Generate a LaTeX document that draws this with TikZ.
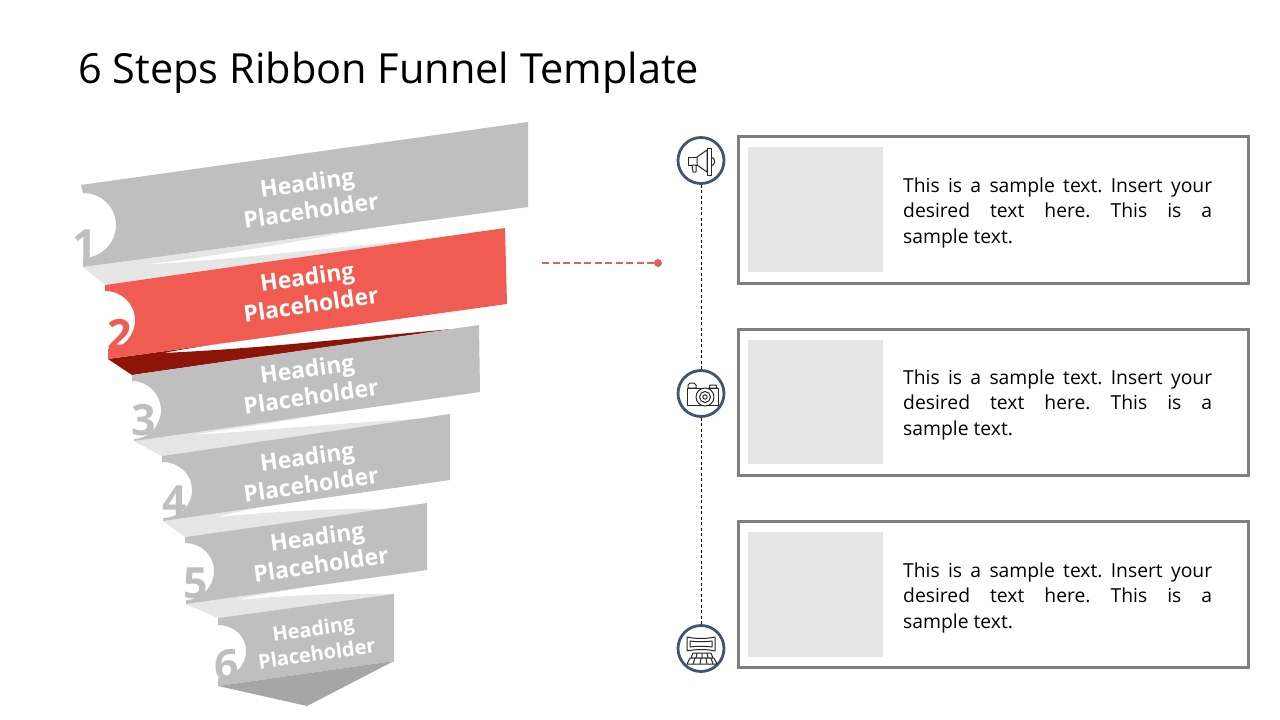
\documentclass[tikz,border=0pt]{standalone}
\usepackage{fontspec}
\setmainfont{Open Sans}
\frenchspacing
\definecolor{ribbon}{HTML}{BFBFBF}
\definecolor{foldgray}{HTML}{E6E6E6}
\definecolor{redrib}{HTML}{F15C52}
\definecolor{darkred}{HTML}{8C1507}
\definecolor{tipgray}{HTML}{A6A6A6}
\definecolor{ringblue}{HTML}{44546A}
\definecolor{boxline}{HTML}{7F7F7F}
\definecolor{phold}{HTML}{E7E6E6}
\definecolor{reddash}{HTML}{E0605A}
% notch: #1 x of the edge, #2 y of notch bottom, #3 y of centre, #4 y of notch top, #5 radius
\newcommand{\notchpath}[5]{
  .. controls ({#1+0.55*#5},#2) and ({#1+#5},{#3+0.55*#5}) .. ({#1+#5},#3)
  .. controls ({#1+#5},{#3-0.55*#5}) and ({#1+0.55*#5},#4) .. (#1,#4)}
\tikzset{
  x=1pt,y=-1pt,
  headtext/.style={rotate=8,white,align=center,inner sep=0pt,font=\bfseries\fontsize{23}{28}\selectfont},
  smallhead/.style={headtext,font=\bfseries\fontsize{20}{25}\selectfont},
  digit/.style={inner sep=0pt,font=\bfseries\fontsize{43}{43}\selectfont},
  infobox/.style={draw=boxline,line width=3pt,fill=white,outer sep=0pt,inner sep=0pt,anchor=north west,minimum width=510pt},
  phbox/.style={fill=phold},
  ring/.style={circle,draw=ringblue,line width=2.8pt,fill=white,minimum size=46pt,inner sep=0pt},
  bodytext/.style={inner sep=0pt,text width=309pt,align=justify,anchor=north west,font=\fontsize{19.3}{25.5}\selectfont},
  link/.style={black,line width=0.8pt,dash pattern=on 3pt off 2.5pt},
  icon/.style={draw=black!85,line width=1pt,fill=white,line join=round},
}
\begin{document}
\begin{tikzpicture}
\useasboundingbox (0,0) rectangle (1280,720);
\node[anchor=base west,inner sep=0pt,font=\fontsize{41.5}{48}\selectfont] (title) at (78,83) {6 Steps Ribbon Funnel Template};

% folds behind ribbons
\fill[foldgray] (83,267) -- (105,285) -- (450,236) .. controls (350,246) and (250,258) .. (142,265) .. controls (210,257) and (290,243) .. (360,230) -- cycle;
\fill[darkred] (108,359) -- (132,375) -- (453,329) .. controls (370,336) and (270,348) .. (163,353) .. controls (200,346) and (250,339) .. (300,332.5) -- cycle;
\fill[foldgray] (133,441) -- (162,456) -- (417,419) .. controls (340,423) and (270,430) .. (192,435) .. controls (230,429) and (270,424) .. (330,413) -- cycle;
\fill[foldgray] (163,521) -- (185,537) -- (387,509) .. controls (330,508) and (270,512) .. (217,517) .. controls (240,511) and (265,506) .. (300,501.4) -- cycle;
\fill[foldgray] (186,604) -- (218,618) -- (394,594) .. controls (340,593) and (290,595) .. (237,600) .. controls (255,595) and (280,592) .. (300,588) -- cycle;

% ribbons
\fill[ribbon] (81,185) -- (528,122) -- (528,207) -- (83,267) -- (83,258) \notchpath{83}{258}{225}{193}{33} -- cycle;
\fill[redrib] (105,285) -- (505,228) -- (507,304) -- (108,359) -- (108,349) \notchpath{105}{350}{320}{291}{30} -- cycle;
\fill[ribbon] (132,375) -- (479,325) -- (480,392) -- (134,441) -- (134,439) \notchpath{132}{439}{410}{381}{29} -- cycle;
\fill[ribbon] (162,456) -- (450,414) -- (450,480) -- (163,521) -- (163,518) \notchpath{162}{518}{490}{462}{30} -- cycle;
\fill[ribbon] (185,537) -- (427,503) -- (427,570) -- (186,604) -- (186,600) \notchpath{185}{600}{571}{543}{29} -- cycle;
\fill[ribbon] (218,618) -- (394,594) -- (394,661) -- (218,686) -- (218,678) \notchpath{218}{678}{651}{625}{28} -- cycle;
\fill[tipgray] (218,686) -- (394,661) -- (307,706) -- cycle;

% digits
\node[digit,ribbon] (d1) at (85,245) {1};
\node[digit,redrib] (d2) at (120,335) {2};
\node[digit,ribbon] (d3) at (144,420) {3};
\node[digit,ribbon] (d4) at (175,501) {4};
\node[digit,ribbon] (d5) at (196,583) {5};
\node[digit,ribbon] (d6) at (227,665) {6};

% headings
\node[headtext] (h1) at (309,196.5) {Heading\\Placeholder};
\node[headtext] (h2) at (309,290.5) {Heading\\Placeholder};
\node[headtext] (h3) at (309,382.5) {Heading\\Placeholder};
\node[headtext] (h4) at (309,470.5) {Heading\\Placeholder};
\node[headtext] (h5) at (319,550.5) {Heading\\Placeholder};
\node[smallhead] (h6) at (315,641) {Heading\\Placeholder};

% red pointer
\coordinate (ptr) at (542,263);
\node[circle,fill=reddash,minimum size=8pt,inner sep=0pt] (dot) at (658,263) {};
\draw[reddash,line width=1.4pt,dash pattern=on 7pt off 3.5pt] (ptr) -- (dot);

% timeline
\node[ring] (c1) at (701,160.5) {};
\node[ring] (c2) at (701,393.5) {};
\node[ring] (c3) at (701,648.5) {};
\draw[link] (c1) -- (c2);
\draw[link] (c2) -- (c3);

% megaphone
\draw[icon] (688,157) rectangle (697,165);
\draw[icon] (692,165) -- (696,165) -- (696,172) -- (693,172) -- cycle;
\draw[icon] (697,157) -- (707,150) -- (707,172) -- (697,165) -- cycle;
\draw[icon] (711,157) .. controls (716,158) and (716,165) .. (711,166);
\draw[icon] (707,148) rectangle (711,175);

% camera
\draw[icon] (688,388) -- (688,385) -- (690,383) -- (694,383) -- (696,385) -- (696,388) -- cycle;
\draw[icon] (709,388) -- (710,385) -- (716,385) -- (717,388) -- cycle;
\draw[icon] (687,388) rectangle (718,405);
\draw[icon] (705,397) circle (9);
\draw[icon] (705,397) circle (5.5);
\draw[icon] (705,397) circle (2.2);

% computer
\draw[icon] (687,637) .. controls (696,639) and (706,639) .. (715,637) -- (715,651) .. controls (706,649) and (696,649) .. (687,651) -- cycle;
\draw[icon] (690,641) .. controls (698,642) and (705,642) .. (712,641) -- (712,647) .. controls (705,646) and (698,646) .. (690,647) -- cycle;
\draw[icon] (691,658) -- (693,653) -- (711,653) -- (713,658) -- cycle;
\draw[icon] (697,653) -- (696,658) (702,653) -- (702,658) (707,653) -- (708,658);
\draw[icon] (687,664) -- (690,658) -- (714,658) -- (717,664) -- cycle;
\draw[icon] (695,658) -- (693,664) (701,658) -- (700,664) (706,658) -- (707,664) (711,658) -- (713,664);

% boxes
\node[infobox,minimum height=147pt] (b1) at (738.5,136.5) {};
\node[infobox,minimum height=146pt] (b2) at (738.5,329.5) {};
\node[infobox,minimum height=146pt] (b3) at (738.5,521.5) {};
\fill[phbox] (748,147) rectangle (883,272);
\fill[phbox] (748,340) rectangle (883,464);
\fill[phbox] (748,532) rectangle (883,657);
\node[bodytext] (t1) at (903,177.5) {This is a sample text. Insert your\linebreak desired text here. This is a\linebreak sample text.};
\node[bodytext] (t2) at (903,369.5) {This is a sample text. Insert your\linebreak desired text here. This is a\linebreak sample text.};
\node[bodytext] (t3) at (903,562.5) {This is a sample text. Insert your\linebreak desired text here. This is a\linebreak sample text.};
\end{tikzpicture}
\end{document}
